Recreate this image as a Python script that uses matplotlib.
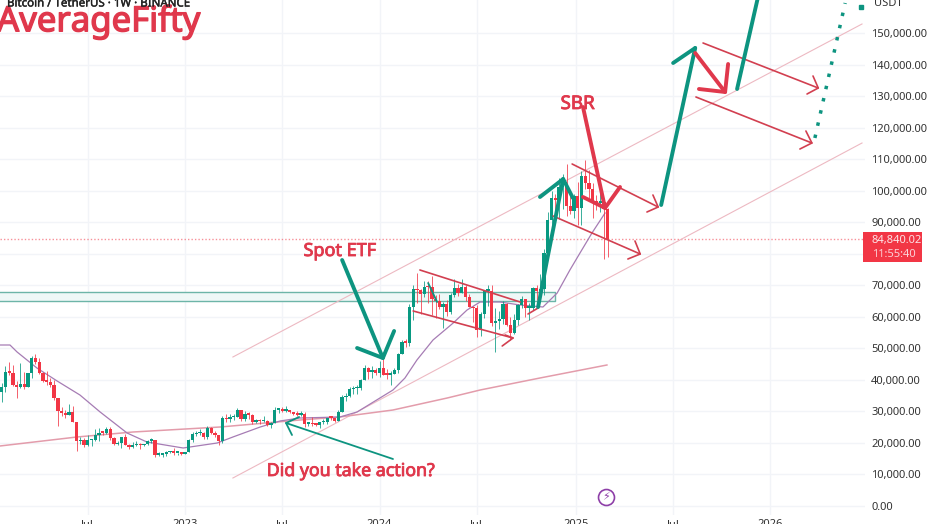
"""
Weekly BTC/USDT candles with hand-drawn style arrows and channel lines.
Writes out.png (932x524).
"""
import matplotlib
import numpy as np

matplotlib.use('Agg')
import matplotlib.patheffects as pe  # noqa: E402
import matplotlib.pyplot as plt  # noqa: E402
from matplotlib.patches import Rectangle  # noqa: E402

plt.rcParams['font.family'] = ['Noto Sans', 'DejaVu Sans']

# x axis is in weeks from 2023-01-02, candles start at 2022-01-24
FIRST_WEEK = -49

# prices in thousands of USDT
opens = [36.3, 37.9, 42.4, 42.2, 38.4, 37.7, 38.8, 37.8, 42.2, 46.8, 45.8, 42.2, 39.7, 39.4, 38.4, 34.3, 30.1,
         29.4, 29.0, 29.9, 26.5, 20.5, 21.0, 19.2, 20.8, 20.8, 22.6, 23.3, 23.2, 24.3, 21.5, 19.6, 20.0, 21.8,
         19.4, 18.8, 19.3, 19.4, 19.3, 19.6, 20.6, 20.9, 16.3, 16.3, 16.4, 17.1, 17.1, 16.8, 16.8,
         16.6, 17.1, 20.9, 22.7, 23.0, 23.3, 21.9, 24.6, 23.2, 22.4, 20.5, 28.0, 27.5, 28.2, 28.3, 30.3, 27.6,
         29.2, 28.9, 26.8, 27.1, 26.9, 27.1, 25.8, 26.3, 30.5, 30.5, 30.2, 30.3, 29.8, 29.3, 29.0, 29.3, 26.0,
         26.0, 25.9, 25.8, 26.5, 26.5, 28.0, 27.9, 27.1, 29.9, 34.5, 35.0, 37.0, 37.4, 37.4, 39.9, 43.7, 42.5, 43.0,
         42.3, 43.9, 41.7, 41.6, 42.0, 43.0, 48.3, 52.1, 51.7, 63.1, 68.9, 68.4, 67.2, 69.6, 69.4, 65.6, 64.9,
         63.1, 64.0, 61.5, 67.0, 69.0, 67.7, 69.6, 66.2, 63.2, 62.7, 55.8, 60.8, 68.2, 68.3, 58.1, 58.7, 59.4,
         64.2, 57.3, 54.9, 59.1, 63.6, 65.6, 62.8, 62.8, 69.0, 68.3, 68.8, 80.4, 90.6, 97.7, 97.2, 101.1, 101.4,
         95.2, 93.7, 98.4, 94.5, 104.6, 102.6, 100.6, 96.5, 96.1, 96.3, 94.3]
closes = [37.9, 42.4, 42.2, 38.4, 37.7, 38.8, 37.8, 42.2, 46.8, 45.8, 42.2, 39.7, 39.4, 38.4, 34.3, 30.1, 29.4,
          29.0, 29.9, 26.5, 20.5, 21.0, 19.2, 20.8, 20.8, 22.6, 23.3, 23.2, 24.3, 21.5, 19.6, 20.0, 21.8, 19.4,
          18.8, 19.3, 19.4, 19.3, 19.6, 20.6, 20.9, 16.3, 16.3, 16.4, 17.1, 17.1, 16.8, 16.8, 16.6,
          17.1, 20.9, 22.7, 23.0, 23.3, 21.9, 24.6, 23.2, 22.4, 20.5, 28.0, 27.5, 28.2, 28.3, 30.3, 27.6, 29.2,
          28.9, 26.8, 27.1, 26.9, 27.1, 25.8, 26.3, 30.5, 30.5, 30.2, 30.3, 29.8, 29.3, 29.0, 29.3, 26.0, 26.0,
          25.9, 25.8, 26.5, 26.5, 28.0, 27.9, 27.1, 29.9, 34.5, 35.0, 37.0, 37.4, 37.4, 39.9, 43.7, 42.5, 43.0, 42.3,
          43.9, 41.7, 41.6, 42.0, 43.0, 48.3, 52.1, 51.7, 63.1, 68.9, 68.4, 67.2, 69.6, 69.4, 65.6, 64.9, 63.1,
          64.0, 61.5, 67.0, 69.0, 67.7, 69.6, 66.2, 63.2, 62.7, 55.8, 60.8, 68.2, 68.3, 58.1, 58.7, 59.4, 64.2,
          57.3, 54.9, 59.1, 63.6, 65.6, 62.8, 62.8, 69.0, 68.3, 68.8, 80.4, 90.6, 97.7, 97.2, 101.1, 101.4, 95.2,
          93.7, 98.4, 94.5, 104.6, 102.6, 100.6, 96.5, 96.1, 96.3, 94.3, 84.84]
highs = [38.9, 44.5, 45.8, 44.7, 39.8, 45.4, 42.6, 42.3, 47.7, 48.2, 47.0, 42.4, 42.9, 40.7, 40.0, 34.2, 31.3,
         30.6, 32.3, 31.7, 26.8, 21.8, 21.5, 22.4, 21.2, 24.3, 24.7, 23.5, 25.2, 25.2, 21.8, 20.6, 21.9, 22.8,
         19.7, 20.4, 20.5, 19.9, 19.7, 21.0, 21.5, 21.0, 17.2, 16.8, 17.4, 17.4, 18.4, 16.9, 16.9,
         17.2, 21.4, 23.4, 23.9, 24.3, 23.4, 25.3, 25.2, 23.9, 22.6, 28.4, 29.2, 29.2, 29.2, 31.0, 30.5, 30.0,
         29.8, 29.1, 27.7, 27.5, 28.4, 27.4, 26.8, 31.4, 31.0, 31.5, 31.8, 30.4, 29.9, 30.0, 30.2, 29.7, 26.8,
         28.1, 26.1, 26.8, 27.5, 28.0, 28.6, 28.0, 30.4, 35.3, 35.9, 37.9, 38.0, 38.4, 40.2, 44.7, 44.0, 44.3, 43.8,
         45.9, 49.0, 43.6, 42.8, 43.9, 48.5, 52.8, 53.0, 64.0, 70.0, 73.8, 68.9, 71.5, 71.3, 72.8, 66.9, 67.2,
         64.7, 65.5, 67.7, 71.9, 70.3, 71.9, 70.2, 67.3, 63.4, 63.8, 61.4, 68.4, 70.0, 70.0, 62.7, 61.8, 65.0,
         64.5, 59.8, 61.0, 64.1, 66.5, 65.6, 64.5, 69.4, 70.0, 73.6, 81.5, 93.3, 99.8, 98.9, 104.0, 105.3, 108.4,
         99.9, 99.0, 102.7, 106.4, 109.6, 106.5, 102.5, 98.8, 99.5, 96.5, 94.4]
lows = [32.9, 36.2, 41.6, 38.0, 34.3, 37.5, 37.2, 37.6, 40.5, 45.2, 42.0, 39.2, 38.5, 37.6, 33.7, 25.4, 28.6,
        28.0, 29.0, 26.6, 17.6, 19.6, 18.6, 18.9, 18.9, 20.7, 20.7, 22.4, 22.7, 20.8, 19.5, 19.5, 18.5, 19.3,
        18.1, 18.5, 19.1, 18.2, 18.9, 19.3, 20.0, 15.6, 15.8, 15.4, 16.0, 16.7, 16.3, 16.3, 16.3,
        16.5, 17.1, 20.4, 22.3, 22.5, 21.4, 21.4, 22.8, 21.9, 19.5, 20.0, 26.6, 26.5, 27.2, 28.2, 27.1, 26.9,
        27.7, 26.1, 26.3, 25.9, 26.5, 25.3, 24.8, 26.2, 29.5, 29.7, 29.9, 29.5, 29.0, 28.6, 28.7, 25.2, 25.4,
        25.3, 25.4, 24.9, 26.0, 25.9, 27.2, 26.5, 26.9, 29.8, 33.4, 34.5, 35.5, 35.6, 36.7, 39.9, 40.2, 40.5, 41.4,
        40.8, 41.5, 40.3, 38.5, 41.9, 42.3, 48.3, 50.5, 50.9, 59.0, 64.5, 60.8, 66.4, 64.5, 60.7, 59.6, 62.4,
        56.5, 60.2, 60.8, 66.3, 66.6, 67.6, 65.0, 63.0, 58.4, 53.5, 54.0, 59.7, 63.4, 57.1, 49.0, 56.0, 57.8,
        57.2, 52.5, 54.6, 57.5, 62.7, 59.8, 58.9, 62.1, 65.2, 67.5, 66.8, 80.2, 88.7, 90.8, 91.1, 94.2, 92.0,
        92.5, 91.5, 89.2, 89.2, 100.5, 97.8, 91.2, 94.0, 93.4, 78.2, 79.0]

ma_long_w = [-49.5, -28.9, -13.9, 9.4, 30.7, 41.4, 55.6, 70.1, 78.9, 94.9, 112.8]
ma_long_p = [19032, 21887, 23473, 25059, 27279, 28231, 30451, 34258, 36795, 40602, 44725]
ma_short_w = [-49.5, -46.8, -44.9, -39.6, -34.2, -28.1, -22.7, -15.5, -10.2, -0.5, 8.6, 12.8, 20.1, 25.4, 30.7,
              41.4, 46.0, 55.6, 58.8, 62.0, 66.3, 71.7, 75.4, 78.9, 84.2, 89.6, 95.7, 99.5, 102.9, 105.6, 108.8, 112.3]
ma_short_p = [51069, 51069, 48849, 43774, 39650, 35209, 29817, 23156, 20301, 18398, 19984, 21887, 25059, 26962,
              27914, 28231, 29817, 36795, 40602, 46311, 52655, 58048, 62171, 64709, 64709, 63757, 63123, 67564,
              74859, 80252, 86596, 92940]

last_price = 84840.02
y_ticks = list(range(0, 160000, 10000))
# the 80,000 label sits behind the price tag in the original
y_labels = ['' if v == 80000 else f"{v:,.2f}" for v in y_ticks]
x_ticks = [-26, 0, 26, 52, 78, 104.5, 130.5, 156.5]
x_labels = ['Jul', '2023', 'Jul', '2024', 'Jul', '2025', 'Jul', '2026']

# drawn annotations as (week, price) polylines
channels = [[(12.8, 47263), (181, 152890)], [(12.8, 8882), (181, 115144)]]
green_thick = [
    [(42.0, 78031), (52.9, 46946)], [(46.0, 50118), (52.9, 46946), (55.9, 55510)],
    [(94.4, 63123), (96.8, 78031), (101.1, 103724)], [(94.9, 98015), (101.1, 103724), (103.7, 97698)],
    [(127.3, 95477), (136.4, 145278)], [(130.5, 140520), (136.4, 145278)],
    [(147.6, 132272), (153.5, 163041)],
]
green_thin = [
    [(55.6, 14908), (27.0, 26328)], [(30.5, 28231), (27.0, 26328), (28.6, 22521)],
    [(65.0, 70736), (67.4, 64709)],
]
red_thick = [
    [(106.4, 126563), (112.3, 94526)], [(106.4, 98015), (112.3, 94526), (116.3, 101187)],
    [(136.4, 143692), (144.4, 131321)], [(137.4, 132272), (144.4, 131321), (145.2, 140202)],
]
red_thin = [
    [(62.8, 74859), (89.6, 64709)],
    [(61.0, 61854), (87.7, 53290)], [(84.8, 50752), (87.7, 53290), (85.6, 54241)],
    [(91.7, 60902), (94.4, 62806)],
    [(103.5, 108482), (126.5, 94843)], [(125.1, 98649), (126.5, 94843), (123.5, 93257)],
    [(98.4, 91988), (121.7, 79934)], [(120.3, 84058), (121.7, 79934), (118.4, 78348)],
    [(138.5, 146864), (169.3, 132590)], [(167.9, 136396), (169.3, 132590), (166.3, 130686)],
    [(136.6, 129735), (167.6, 115144)], [(166.0, 118950), (167.6, 115144), (164.4, 113240)],
]
dotted_w = [168.4, 176.5]
dotted_p = [116730, 159552]

UP, DOWN = '#089981', '#f23645'
TEAL, RED = '#0d9480', '#e0384c'
GRID = '#f2f4f8'
THICKER = [pe.withStroke(linewidth=0.6, foreground=RED)]

fig = plt.figure(figsize=(9.32, 5.24), dpi=100)
ax = fig.add_axes([0, 9 / 524, 865 / 932, 515 / 524])
ax.set_xlim(-49.47, 181.8)
ax.set_ylim(-2855, 160503)
for s in ax.spines.values():
    s.set_visible(False)

ax.set_xticks(x_ticks, x_labels)
ax.set_yticks(y_ticks, y_labels)
ax.yaxis.tick_right()
ax.tick_params(axis='both', length=0, labelsize=8, labelcolor='#333333')
ax.tick_params(axis='y', pad=4.5)
ax.tick_params(axis='x', pad=3)
for lab in ax.get_yticklabels():
    lab.set_horizontalalignment('left')
ax.grid(True, color=GRID, lw=1)
ax.set_axisbelow(True)

# zone around the 2021 highs
ax.add_patch(Rectangle((-50, 65026), 148.9, 2855, fc='#eff8f7', ec='none', zorder=1))
ax.plot([-50, 98.9, 98.9, -50], [67881, 67881, 65026, 65026], color='#6db5a8', lw=1, zorder=1.5)

ax.axhline(last_price, color=DOWN, lw=1, ls=(0, (1, 1.5)), alpha=0.55, zorder=1.5)

for seg in channels:
    ax.plot(*zip(*seg), color='#edb9c2', lw=0.8, zorder=2)
ax.plot(ma_long_w, ma_long_p, color='#e39cab', lw=1.1, zorder=2)
ax.plot(ma_short_w, ma_short_p, color='#a67cb4', lw=0.9, zorder=2)

# candles
o, c = np.array(opens) * 1000, np.array(closes) * 1000
hi, lo = np.array(highs) * 1000, np.array(lows) * 1000
wk = np.arange(len(o)) + FIRST_WEEK
cols = np.where(c >= o, UP, DOWN)
ax.vlines(wk, lo, hi, colors=cols, lw=0.7, zorder=3, alpha=0.8)
ax.bar(wk, np.maximum(np.abs(c - o), 500), bottom=np.minimum(o, c), width=0.88, color=cols, lw=0, zorder=3)

for seg in red_thin:
    ax.plot(*zip(*seg), color='#d23f50', lw=1.2, zorder=4, solid_capstyle='round')
for seg in green_thin:
    ax.plot(*zip(*seg), color=TEAL, lw=1.3, zorder=4, solid_capstyle='round')
for seg in green_thick:
    ax.plot(*zip(*seg), color=TEAL, lw=2.8, zorder=4, solid_capstyle='round', solid_joinstyle='round')
for seg in red_thick:
    ax.plot(*zip(*seg), color=RED, lw=2.8, zorder=4, solid_capstyle='round', solid_joinstyle='round')

ax.plot(dotted_w, dotted_p, color=TEAL, lw=2.5, ls=(0, (1, 2.6)), zorder=4)
ax.plot([180.7], [158283], 's', color=TEAL, ms=2.5, zorder=4, clip_on=False)

# text notes
ax.text(41.4, 80886, "Spot ETF", color=RED, fontsize=13, ha='center', va='center', path_effects=THICKER)
ax.text(105, 127514, "SBR", color=RED, fontsize=13.5, ha='center', va='center', path_effects=THICKER)
ax.text(44.4, 11102, "Did you take action?", color=RED, fontsize=12.8, ha='center', va='center',
        path_effects=THICKER)
fig.text(-3 / 932, 1 - 22 / 524, "AverageFifty", color=RED, fontsize=25, ha='left', va='center',
         path_effects=[pe.withStroke(linewidth=1.0, foreground=RED)])
fig.text(7 / 932, 1 - 4 / 524, "Bitcoin / TetherUS · 1W · BINANCE", color='#222222', fontsize=8.3,
         ha='left', va='center', path_effects=[pe.withStroke(linewidth=0.3, foreground='#222222')])
fig.text(874 / 932, 1 - 3 / 524, "USDT", color='#333333', fontsize=8, ha='left', va='center')

# last price tag over the axis labels
ax.add_patch(Rectangle((181.3, 77397), 15.8, 9516, fc=DOWN, ec='none', zorder=5, clip_on=False))
ax.text(183.6, 84100, f"{last_price:,.2f}", color='#fde3e6', fontsize=8, va='center', zorder=6)
ax.text(183.6, 79700, "11:55:40", color='#fbd0d6', fontsize=8, va='center', zorder=6)

# lightning badge
ax.plot([112.6], [2855], 'o', mfc='white', mec='#8e3fa8', ms=11.5, mew=1.2, zorder=5)
ax.text(112.6, 2855, "⚡", color='#8e3fa8', fontsize=8, ha='center', va='center', zorder=6,
        family=['DejaVu Sans'])

fig.savefig("out.png", dpi=100)
print("wrote out.png")
